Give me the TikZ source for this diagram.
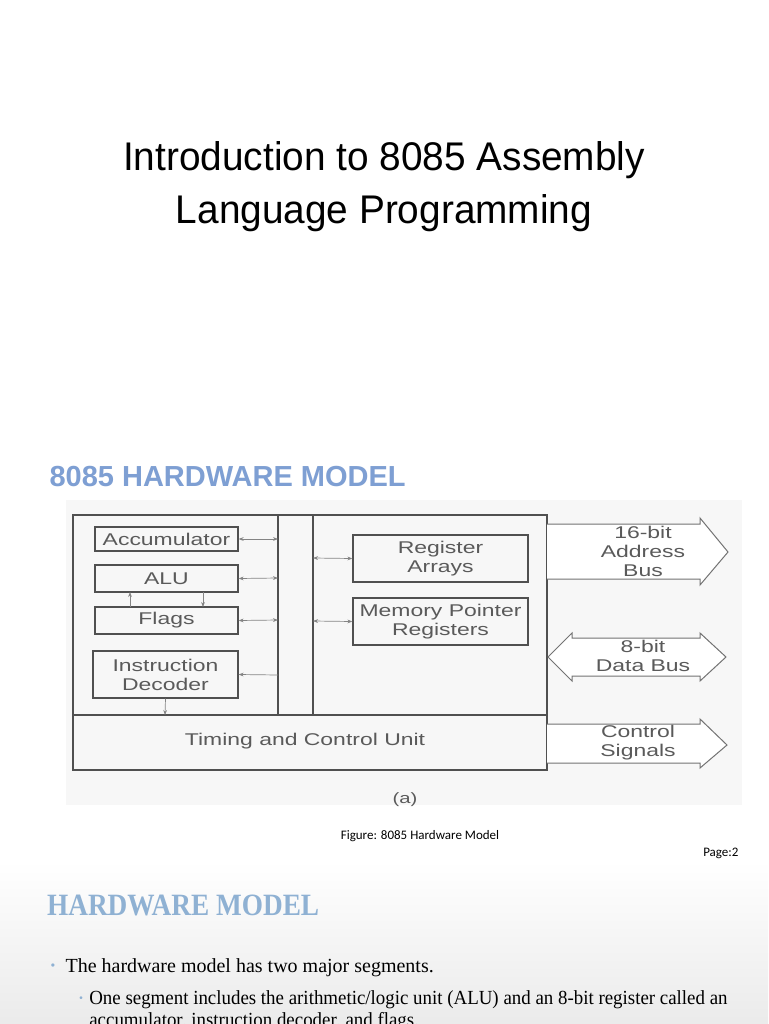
\documentclass[tikz,border=0pt]{standalone}
\usepackage{fontspec}
\setmainfont{Liberation Sans}
\newfontfamily\serif{Liberation Serif}
\newfontfamily\carl{Carlito}
\newfontfamily\wide[FakeStretch=1.35]{Liberation Sans}
\usetikzlibrary{arrows.meta}
\definecolor{hblue}{HTML}{7E9FD3}
\definecolor{hblue2}{HTML}{8FB1D3}
\definecolor{dg}{HTML}{505050}
\definecolor{tg}{HTML}{5A5A5A}
\begin{document}
\begin{tikzpicture}[x=1pt,y=-1pt,
  blk/.style={draw=dg,line width=1.2pt,inner sep=0pt,font=\wide\fontsize{17}{19}\selectfont,text=tg,align=center},
  sarr/.style={draw=dg!70,line width=0.7pt,{Stealth[length=5pt]}-{Stealth[length=5pt]}},
  oarr/.style={draw=dg!70,line width=0.7pt,-{Stealth[length=5pt]}},
  bus/.style={draw=dg!80,line width=1pt,fill=white},
  lbl/.style={font=\wide\fontsize{17}{19}\selectfont,text=tg,align=center,inner sep=0pt}]
\useasboundingbox (0,0) rectangle (768,1024);
\fill[white] (0,0) rectangle (768,860);
\shade[top color=white,bottom color=black!8] (0,860) rectangle (768,1024);
% title
\node[font=\fontsize{40}{53}\selectfont,align=center,xscale=0.97] (title) at (384,187) {Introduction to 8085 Assembly\\Language Programming};
\node[font=\fontsize{29}{30}\selectfont\bfseries,text=hblue,anchor=west] (sub) at (46,477) {8085 HARDWARE MODEL};
% diagram background
\fill[black!3] (66,500) rectangle (742,805);
\draw[dg,line width=1.5pt] (73,515) rectangle (547,770);
\draw[dg,line width=1.5pt] (73,715) -- (547,715);
\draw[dg,line width=1.5pt] (278,515) -- (278,715);
\draw[dg,line width=1.2pt] (313,515) -- (313,715);
\node[blk,minimum width=143,minimum height=24] (acc) at (166.5,539) {Accumulator};
\node[blk,minimum width=143,minimum height=27] (alu) at (166.5,578.5) {ALU};
\node[blk,minimum width=143,minimum height=27] (flg) at (166.5,620.5) {Flags};
\node[blk,minimum width=145,minimum height=47] (dec) at (165.5,674.5) {Instruction\\Decoder};
\node[blk,minimum width=175,minimum height=47] (reg) at (440.5,558.5) {Register\\Arrays};
\node[blk,minimum width=175,minimum height=47] (mem) at (440.5,621.5) {Memory Pointer\\Registers};
\coordinate (b1) at (278,539); \coordinate (b2) at (278,578); \coordinate (b3) at (278,620); \coordinate (b4) at (278,675);
\coordinate (c1) at (313,558); \coordinate (c2) at (313,621);
\draw[sarr] (acc.east) -- (b1);
\draw[sarr] (alu.east) -- (b2);
\draw[sarr] (flg.east) -- (b3);
\draw[oarr] (b4) -- (dec.east);
\draw[sarr] (c1) -- (reg.west);
\draw[sarr] (c2) -- (mem.west);
\draw[oarr] (130,607) -- (130,592);
\draw[oarr] (203,592) -- (203,607);
\coordinate (dd) at (165,715);
\draw[oarr] (dec.south) -- (dd);
\node[lbl] (tcu) at (305,741) {Timing and Control Unit};
% buses
\draw[bus] (547,524) -- (700,524) -- (700,518) -- (728,552) -- (700,585) -- (700,579) -- (547,579);
\node[lbl] (ab) at (643,551) {16-bit\\Address\\Bus};
\draw[bus] (548,657) -- (572,633) -- (572,638) -- (700,638) -- (700,633) -- (726,657) -- (700,681) -- (700,676) -- (572,676) -- (572,681) -- cycle;
\node[lbl] (db) at (643,656) {8-bit\\Data Bus};
\draw[bus] (547,724) -- (700,724) -- (700,719) -- (727,745) -- (700,768) -- (700,763) -- (547,763);
\node[lbl] (cs) at (638,743) {Control\\Signals};
\node[lbl,font=\wide\fontsize{15}{16}\selectfont] (a) at (405,800) {(a)};
\node[font=\carl\fontsize{13}{15}\selectfont] (fig) at (420,836) {Figure: 8085 Hardware Model};
\node[font=\carl\fontsize{13}{15}\selectfont,anchor=east] (pg) at (742,853) {Page:2};
% lower slide
\node[font=\serif\bfseries\fontsize{31}{34}\selectfont,text=hblue2,anchor=west,xscale=0.88] (hm) at (44,905) {HARDWARE MODEL};
\node[text=hblue2,font=\fontsize{12}{12}\selectfont] (bl1) at (53,967) {•};
\node[font=\serif\fontsize{20}{22}\selectfont,anchor=west] (t1) at (62,968) {The hardware model has two major segments.};
\node[text=hblue2,font=\fontsize{10}{10}\selectfont] (bl2) at (81,999) {•};
\node[font=\serif\fontsize{20}{22}\selectfont,anchor=west,xscale=0.945] (t2) at (86,1000) {One segment includes the arithmetic/logic unit (ALU) and an 8-bit register called an};
\node[font=\serif\fontsize{20}{22}\selectfont,anchor=west,xscale=0.945] (t3) at (86,1022) {accumulator, instruction decoder, and flags.};
\end{tikzpicture}
\end{document}
